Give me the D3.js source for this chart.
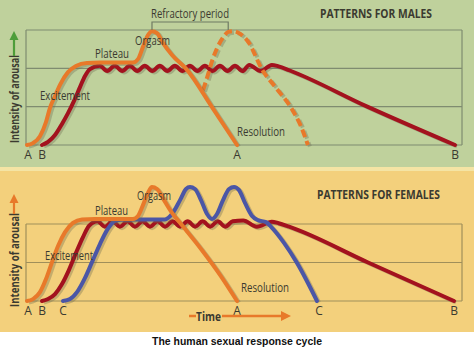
<!DOCTYPE html>
<html><head><meta charset="utf-8">
<script src="https://cdn.jsdelivr.net/npm/d3@7/dist/d3.min.js"></script>
<style>
html,body{margin:0;padding:0;background:#fff;}
svg{display:block;}
text{font-family:"Liberation Sans Narrow","Arial Narrow","Open Sans",sans-serif;fill:#3b3a30;}
</style></head>
<body><svg id="c" width="474" height="355"></svg>
<script>
// ---------- DATA (time units, arousal levels 0-3) ----------
const maleOrangeT = [0.13,0.93,1.86,2.66,3.19,3.86,4.52,5.59,6.65,8.11,9.84,14.23,14.9,15.56,16.23,16.76,17.43,18.23,19.42,21.42,24.74,28.07];
const maleOrangeY = [0,0.05,0.23,0.60,0.97,1.28,1.57,1.90,2.06,2.14,2.15,2.15,2.24,2.56,2.87,2.97,2.92,2.66,2.35,1.96,0.99,0];

const maleDashT = [23.55,24.2,24.8,25.4,26.2,26.9,27.6,28.5,29.6,31.4,33.3,35.2,36.5,37.5];
const maleDashY = [1.43,1.83,2.22,2.52,2.80,2.95,2.97,2.90,2.68,1.97,1.48,0.99,0.52,0];

const maleRedT = [2.13,2.93,3.86,4.79,5.59,6.39,7.18,7.85,8.51,9.8,10.8,11.8,12.8,13.8,14.8,15.8,16.8,17.8,18.8,19.8,20.8,21.8,22.8,23.8,24.8,25.8,26.8,27.8,28.8,29.7,31.2,32.7,33.6,35.0,45.4,57.07];
const maleRedY = [0,0.08,0.26,0.55,0.83,1.15,1.51,1.80,1.98,2.07,1.93,2.07,1.93,2.07,1.93,2.07,1.93,2.07,1.93,2.07,1.93,2.07,1.93,2.07,1.93,2.07,1.93,2.07,1.93,2.09,1.93,2.09,2.05,1.95,1.0,0];

const femOrangeT = [0.13,0.93,1.86,2.66,3.46,4.26,5.19,6.25,7.45,9.18,14.23,14.9,15.56,16.23,16.76,17.43,18.36,19.42,20.49,23.41,25.81,28.07];
const femOrangeY = [0,0.05,0.23,0.57,1.01,1.43,1.79,2.03,2.12,2.13,2.13,2.21,2.49,2.81,2.96,2.91,2.62,2.29,2.03,1.32,0.68,0];

const femRedT = [2.13,2.93,3.86,4.79,5.72,6.65,7.58,8.38,9.5,10.5,11.5,12.5,13.5,14.5,15.5,16.5,17.5,18.5,19.5,20.5,21.5,22.5,23.5,24.5,25.5,26.5,27.5,28.9,30.7,32.7,33.6,35.0,45.5,56.94];
const femRedY = [0,0.05,0.18,0.44,0.81,1.25,1.66,1.95,2.07,1.93,2.07,1.93,2.07,1.93,2.07,1.93,2.07,1.93,2.07,1.93,2.07,1.93,2.07,1.93,2.07,1.93,2.07,2.09,1.93,2.06,2.02,1.93,1.0,0];

const femBlueT = [4.92,5.85,6.78,7.85,8.78,9.84,10.78,11.84,13.17,18.49,19.42,20.49,21.29,21.82,22.48,23.28,24.08,24.74,25.41,26.21,27.01,27.67,28.34,29.13,30.07,30.86,31.93,32.73,34.32,36.05,38.71];
const femBlueY = [0,0.05,0.23,0.60,1.01,1.48,1.84,2.08,2.12,2.12,2.26,2.62,2.91,2.96,2.91,2.62,2.26,2.13,2.26,2.62,2.91,2.96,2.88,2.55,2.21,2.10,2.05,1.90,1.51,0.99,0];

const maleTickLabels = ["A","B","A","B"];
const maleTickTimes  = [0.27,2.13,28.07,57.07];
const femTickLabels  = ["A","B","C","A","C","B"];
const femTickTimes   = [0.27,2.13,4.92,28.07,38.98,56.94];

const maleGridLevels = [0,1,2,3];
const femGridLevels  = [0,1,2];

// ---------- LAYOUT ----------
const svg = d3.select("#c");
const W = 474, H = 355;
const x = d3.scaleLinear().domain([0,58]).range([26,462]);
const yTop = d3.scaleLinear().domain([0,3]).range([145,30]);
const yBot = d3.scaleLinear().domain([0,3]).range([301,185.5]);

const C = {orange:"#e8792a", red:"#a3121e", blue:"#4b56a6", shadow:"rgba(110,105,80,0.35)"};

// backgrounds
svg.append("rect").attr("x",0).attr("y",0).attr("width",W).attr("height",167).attr("fill","#bfd19c");
svg.append("rect").attr("x",0).attr("y",167).attr("width",W).attr("height",4).attr("fill","#f4e4a4");
svg.append("rect").attr("x",0).attr("y",171).attr("width",W).attr("height",161).attr("fill","#f3d07c");
svg.append("rect").attr("x",0).attr("y",332).attr("width",W).attr("height",23).attr("fill","#ffffff");

function grid(g, y, levels, col){
  g.selectAll("line.h").data(levels).join("line")
    .attr("x1",x(0)).attr("x2",x(58)).attr("y1",d=>y(d)).attr("y2",d=>y(d))
    .attr("stroke",col).attr("stroke-width",1.2);
  const top = d3.max(levels);
  [0,58].forEach(t=>g.append("line").attr("x1",x(t)).attr("x2",x(t)).attr("y1",y(0)).attr("y2",y(top))
    .attr("stroke",col).attr("stroke-width",1.2));
}
const gTop = svg.append("g"), gBot = svg.append("g");
grid(gTop, yTop, maleGridLevels, "#7f8c70");
grid(gBot, yBot, femGridLevels, "#a08f5a");

function curve(g, y, ts, ys, color, dash){
  const pts = ts.map((t,i)=>[t,ys[i]]);
  const line = d3.line().x(d=>x(d[0])).y(d=>y(d[1])).curve(d3.curveMonotoneX);
  g.append("path").attr("d",line(pts)).attr("fill","none").attr("stroke",C.shadow)
    .attr("stroke-width",4).attr("transform","translate(2,1.5)").attr("stroke-dasharray",dash||null)
    .attr("stroke-linejoin","round");
  g.append("path").attr("d",line(pts)).attr("fill","none").attr("stroke",color)
    .attr("stroke-width",4).attr("stroke-dasharray",dash||null).attr("stroke-linejoin","round")
    .attr("stroke-linecap",dash?"butt":"round");
}
curve(gTop, yTop, maleRedT, maleRedY, C.red);
curve(gTop, yTop, maleDashT, maleDashY, C.orange, "8,4");
curve(gTop, yTop, maleOrangeT, maleOrangeY, C.orange);

curve(gBot, yBot, femRedT, femRedY, C.red);
curve(gBot, yBot, femBlueT, femBlueY, C.blue);
curve(gBot, yBot, femOrangeT, femOrangeY, C.orange);

// tick letters
function ticks(g, y, labels, times, dy){
  g.selectAll("text.tk").data(labels).join("text").attr("class","tk")
    .attr("x",(d,i)=>x(times[i])).attr("y",y(0)+dy).attr("text-anchor","middle")
    .attr("font-size",12).text(d=>d);
}
ticks(gTop, yTop, maleTickLabels, maleTickTimes, 14);
ticks(gBot, yBot, femTickLabels, femTickTimes, 14);

// phase labels
function lab(txt, px, py, opts={}){
  const t = svg.append("text").attr("x",px).attr("y",py).attr("font-size",opts.size||12)
    .attr("text-anchor",opts.anchor||"start").text(txt);
  if(opts.bold) t.attr("font-weight","bold");
  if(opts.len) t.attr("textLength",opts.len).attr("lengthAdjust","spacingAndGlyphs");
  return t;
}
lab("Refractory period",151,18,{len:78});
lab("Orgasm",135,45,{len:35});
lab("Plateau",95,58,{len:34});
lab("Excitement",40,100,{len:50});
lab("Resolution",237,136,{len:48});
lab("PATTERNS FOR MALES",320,18,{bold:true,len:112});

lab("Orgasm",137,200,{len:34});
lab("Plateau",95,215,{len:33});
lab("Excitement",45,260,{len:48});
lab("Resolution",241,292,{len:48});
lab("PATTERNS FOR FEMALES",317,199,{bold:true,len:123});

// refractory bracket
svg.append("path").attr("d",`M${x(16.76)},${yTop(3)} V22 H${x(26.9)} V${yTop(3)}`)
  .attr("fill","none").attr("stroke","#6f7a62").attr("stroke-width",1.2);

// y-axis labels + arrows
function yLabel(cy, len){
  svg.append("text").attr("transform",`translate(19,${cy}) rotate(-90)`).attr("text-anchor","middle")
    .attr("font-size",12).attr("font-weight","bold").attr("textLength",len)
    .attr("lengthAdjust","spacingAndGlyphs").text("Intensity of arousal");
}
yLabel(99,88);
yLabel(260,94);
function arrowUp(cx, y0, y1, col){
  svg.append("line").attr("x1",cx).attr("x2",cx).attr("y1",y0).attr("y2",y1+6).attr("stroke",col).attr("stroke-width",2.2);
  svg.append("path").attr("d",`M${cx-4.5},${y1+9} L${cx},${y1} L${cx+4.5},${y1+9} Z`).attr("fill",col);
}
arrowUp(14,56,31,"#4e9d3a");
arrowUp(14,214,194,"#e8792a");

// time arrow
svg.append("line").attr("x1",189).attr("x2",196).attr("y1",316).attr("y2",316).attr("stroke","#e8792a").attr("stroke-width",2.5);
svg.append("line").attr("x1",222).attr("x2",283).attr("y1",316).attr("y2",316).attr("stroke","#e8792a").attr("stroke-width",2.5);
svg.append("path").attr("d","M281,311 L291,316 L281,321 Z").attr("fill","#e8792a");
lab("Time",196,321,{bold:true,size:13,len:25});

// caption
svg.append("text").attr("x",237).attr("y",345).attr("text-anchor","middle")
  .style("font-family","'Liberation Sans',Arial,sans-serif").style("fill","#111")
  .attr("font-size",11).attr("font-weight","bold").attr("textLength",170)
  .attr("lengthAdjust","spacingAndGlyphs").text("The human sexual response cycle");
</script></body></html>
